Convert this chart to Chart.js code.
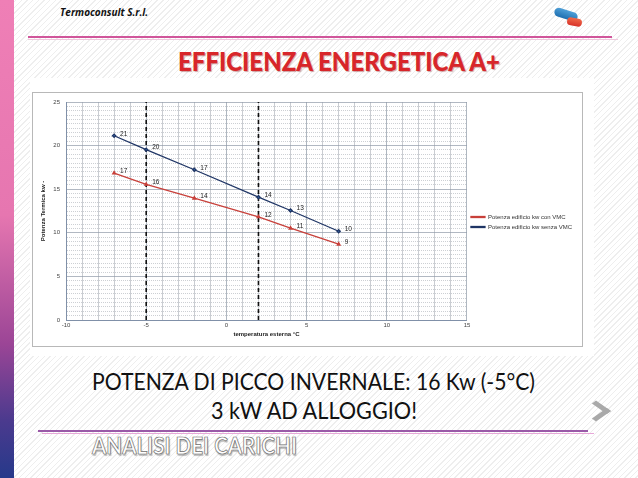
<!DOCTYPE html>
<html><head><meta charset="utf-8">
<script src="https://cdn.jsdelivr.net/npm/chart.js@4.4.0/dist/chart.umd.min.js"></script>
<style>
html,body{margin:0;padding:0;}
body{width:638px;height:478px;position:relative;overflow:hidden;
 background:repeating-linear-gradient(135deg,#ffffff 0 3px,#eeeeee 3px 4px);
 font-family:"Liberation Sans",Arial,sans-serif;}
#strip{position:absolute;left:0;top:0;width:14px;height:478px;
 background:linear-gradient(#ef7fb6 0%,#e676b0 45%,#9b4596 72%,#4b3a8e 88%,#26398a 100%);}
#company{position:absolute;left:60px;top:5px;font:italic bold 10px "Open Sans",sans-serif;color:#111;}
#topline{position:absolute;left:28px;top:36px;width:584px;height:2px;background:#d0559a;}
#topline2{position:absolute;left:28px;top:39px;width:590px;height:1px;background:#f0c8dd;}
#logo1{position:absolute;left:554px;top:10px;width:24px;height:9px;border-radius:5px;background:linear-gradient(#4fa0d8,#1e6fb0);transform:rotate(18deg);}
#logo2{position:absolute;left:567px;top:18px;width:15px;height:8px;border-radius:5px;background:linear-gradient(#f06a4a,#d8332a);transform:rotate(10deg);}
.fit{position:absolute;white-space:nowrap;transform-origin:0 0;}
#title{left:178px;top:44px;font:900 27px Lato,sans-serif;color:#d8262a;text-shadow:1px 1px 1px rgba(120,0,0,0.35);}
#white{position:absolute;left:30px;top:78px;width:564px;height:278px;background:#fff;}
#frame{position:absolute;left:32px;top:92px;width:551px;height:255px;border:1px solid #b8b8b8;box-sizing:border-box;}
#cwrap{position:absolute;left:30px;top:78px;width:564px;height:278px;}
#line1{left:92px;top:367px;font:23px Lato,sans-serif;color:#111;}
#line2{left:211px;top:396px;font:23px Lato,sans-serif;color:#111;}
#botline{position:absolute;left:38px;top:430px;width:550px;height:2px;background:#9a5aa8;}
#botline2{position:absolute;left:42px;top:433px;width:552px;height:1px;background:#e6a8d8;}
#analisi{left:92px;top:432px;font:bold 22px Lato,sans-serif;color:#fff;-webkit-text-stroke:0.7px #6e6e6e;text-shadow:1px 2px 1px rgba(0,0,0,0.25);}
#chev{position:absolute;left:587px;top:402px;width:13px;height:13px;border-right:5px solid #a9a9a9;border-top:5px solid #a9a9a9;transform:rotate(45deg) skew(-10deg,-10deg);}
</style></head>
<body>
<div id="strip"></div>
<div id="company">Termoconsult S.r.l.</div>
<div id="logo1"></div><div id="logo2"></div>
<div id="topline"></div><div id="topline2"></div>
<div id="title" class="fit" data-w="322">EFFICIENZA ENERGETICA A+</div>
<div id="white"></div>
<div id="frame"></div>
<div id="cwrap"><canvas id="c" width="564" height="278"></canvas></div>
<div id="line1" class="fit" data-w="443">POTENZA DI PICCO INVERNALE: 16 Kw (-5°C)</div>
<div id="line2" class="fit" data-w="206">3 kW AD ALLOGGIO!</div>
<div id="botline"></div><div id="botline2"></div>
<div id="analisi" class="fit" data-w="205">ANALISI DEI CARICHI</div>
<div id="chev"></div>
<script>
// ---- data ----
const temperatures = [-7, -5, -2, 2, 4, 7];
const seriesConVMC = [16.85, 15.55, 13.97, 11.83, 10.53, 8.69];
const seriesSenzaVMC = [21.13, 19.53, 17.23, 14.09, 12.56, 10.18];
const labelsConVMC = ['17', '16', '14', '12', '11', '9'];
const labelsSenzaVMC = ['21', '20', '17', '14', '13', '10'];
const seriesNames = ['Potenza edificio kw con VMC', 'Potenza edificio kw senza VMC'];
const markerTemps = [-5, 2];
const yRange = [0, 25];
const xRange = [-10, 15];
const xTitle = 'temperatura esterna °C';
const yTitle = 'Potenza Termica kw -';

document.querySelectorAll('.fit').forEach(el => {
  const w = el.getBoundingClientRect().width;
  const target = +el.dataset.w;
  el.style.transform = 'scaleX(' + (target / w) + ')';
});

const toPts = (xs, ys) => xs.map((x, i) => ({x: x, y: ys[i]}));
const datasets = [
  {label: seriesNames[0], data: toPts(temperatures, seriesConVMC), pointLabels: labelsConVMC,
   borderColor: '#c8403a', backgroundColor: '#d8403a', borderWidth: 1.3, pointRadius: 1.6, pointStyle: 'triangle'},
  {label: seriesNames[1], data: toPts(temperatures, seriesSenzaVMC), pointLabels: labelsSenzaVMC,
   borderColor: '#1f3565', backgroundColor: '#3b7bc0', borderWidth: 1.3, pointRadius: 1.6, pointStyle: 'rectRot'}
];
markerTemps.forEach(t => datasets.push({
  label: 'marker', data: [{x: t, y: yRange[0]}, {x: t, y: yRange[1]}], isMarker: true,
  borderColor: '#111', borderWidth: 1.6, borderDash: [4, 3], pointRadius: 0
}));

const labelPlugin = {
  id: 'ptlabels',
  afterDatasetsDraw(chart) {
    const ctx = chart.ctx;
    ctx.save();
    ctx.font = '6.5px "Liberation Sans", Arial';
    ctx.fillStyle = '#222';
    ctx.textBaseline = 'middle';
    chart.data.datasets.forEach((ds, di) => {
      if (!ds.pointLabels) return;
      chart.getDatasetMeta(di).data.forEach((pt, i) => {
        ctx.fillText(ds.pointLabels[i], pt.x + 6, pt.y - 2);
      });
    });
    ctx.restore();
  }
};

new Chart(document.getElementById('c'), {
  type: 'line',
  data: {datasets: datasets},
  options: {
    responsive: false, animation: false,
    layout: {padding: {left: 6, right: 12, top: 24, bottom: 14}},
    plugins: {
      tooltip: {enabled: false},
      legend: {
        position: 'right',
        labels: {
          filter: item => item.text !== 'marker',
          boxWidth: 14, boxHeight: 1, padding: 4,
          font: {size: 6, family: '"Liberation Sans", Arial'}, color: '#333'
        }
      }
    },
    scales: {
      x: {
        type: 'linear', min: xRange[0], max: xRange[1],
        afterFit: s => { s.height = 22; },
        ticks: {stepSize: 1, autoSkip: false, maxRotation: 0, padding: 2,
          font: {size: 6}, color: '#444',
          callback: v => (v % 5 === 0 ? String(v) : '')},
        grid: {color: ctx => (ctx.tick && ctx.tick.value % 5 === 0 ? '#9aa4b0' : '#bcc0c6'), lineWidth: 0.8, drawTicks: false},
        border: {color: '#8090a8'},
        title: {display: true, text: xTitle, font: {size: 6, weight: 'bold'}, color: '#222', padding: {top: 2}}
      },
      y: {
        type: 'linear', min: yRange[0], max: yRange[1],
        afterFit: s => { s.width = 30; },
        ticks: {stepSize: 0.5, autoSkip: false, padding: 6,
          font: {size: 6}, color: '#444',
          callback: v => (v % 5 === 0 ? String(v) : '')},
        grid: {color: ctx => (ctx.tick && ctx.tick.value % 5 === 0 ? '#8f9aa8' : '#b8bcc2'), lineWidth: 0.7, drawTicks: false},
        border: {color: '#8090a8', dash: ctx => (ctx.tick && ctx.tick.value % 5 === 0 ? [] : [1, 1])},
        title: {display: true, text: yTitle, font: {size: 6, weight: 'bold'}, color: '#222', padding: {bottom: 2}}
      }
    }
  },
  plugins: [labelPlugin]
});
</script>
</body></html>
